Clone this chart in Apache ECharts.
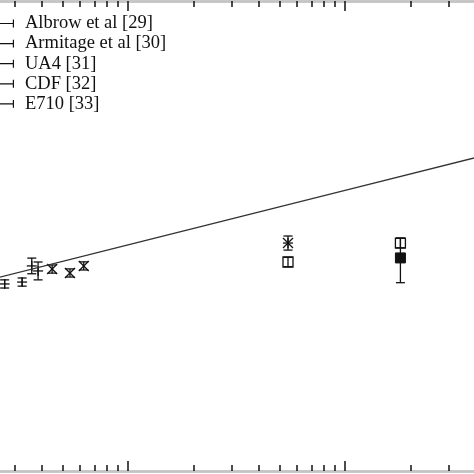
<!DOCTYPE html>
<html><head><meta charset="utf-8">
<script src="https://cdn.jsdelivr.net/npm/echarts@6/dist/echarts.min.js"></script>
<style>html,body{margin:0;padding:0;background:#fff}#c{width:474px;height:474px}</style>
</head><body><div id="c"></div>
<script>
// ---- data (sqrt(s) in GeV, value in arbitrary units) ----
const seriesNames = ['Albrow et al [29]', 'Armitage et al [30]', 'UA4 [31]', 'CDF [32]', 'E710 [33]'];
const albrowE = [27, 32.5, 36, 38.5];
const albrowY = [11.94, 12.06, 13.09, 12.77];
const albrowErrLo = [0.26, 0.26, 0.5, 0.57];
const albrowErrHi = [0.26, 0.26, 0.5, 0.57];
const armitageE = [44.7, 54, 62.5];
const armitageY = [12.89, 12.64, 13.09];
const armitageErrLo = [0.26, 0.26, 0.26];
const armitageErrHi = [0.26, 0.26, 0.26];
const ua4E = [546];
const ua4Y = [14.55];
const ua4ErrLo = [0.45];
const ua4ErrHi = [0.45];
const cdfE = [546, 1800];
const cdfY = [13.34, 14.55];
const cdfErrLo = [0.3, 0.3];
const cdfErrHi = [0.3, 0.3];
const e710E = [1800];
const e710Y = [13.60];
const e710ErrLo = [1.58];
const e710ErrHi = [1.27];
const modelE = [20, 100, 1000, 5000];
const modelY = [12.0, 14.43, 17.91, 20.34];
const majorTicks = [100, 1000];
const minorTicks = [30, 40, 50, 60, 70, 80, 90, 200, 300, 400, 500, 600, 700, 800, 900, 2000, 3000];
const xMinE = 25.7, xMaxE = 3930;
const yMin = 0, yMax = 30;

const INK = '#111';
function pts(E, Y, Lo, Hi) { return E.map((e, i) => [Math.log10(e), Y[i], Lo[i], Hi[i]]); }

function makeRender(kind) {
  return function (params, api) {
    const x = api.value(0), y = api.value(1), lo = api.value(2), hi = api.value(3);
    const c = api.coord([x, y]);
    const t = api.coord([x, y + hi]);
    const b = api.coord([x, y - lo]);
    const cap = 4.5, s = 5;
    const st = { stroke: INK, lineWidth: 1.3, fill: null };
    const L = (x1, y1, x2, y2) => ({ type: 'line', shape: { x1, y1, x2, y2 }, style: st });
    const ch = [
      L(c[0], t[1], c[0], b[1]),
      L(c[0] - cap, t[1], c[0] + cap, t[1]),
      L(c[0] - cap, b[1], c[0] + cap, b[1])
    ];
    if (kind === 'plus' || kind === 'star') {
      ch.push(L(c[0] - s, c[1], c[0] + s, c[1]), L(c[0], c[1] - s, c[0], c[1] + s));
    }
    if (kind === 'cross' || kind === 'star') {
      ch.push(L(c[0] - s, c[1] - s, c[0] + s, c[1] + s), L(c[0] - s, c[1] + s, c[0] + s, c[1] - s));
    }
    if (kind === 'box') {
      ch.push({ type: 'rect', shape: { x: c[0] - s, y: c[1] - s, width: 2 * s, height: 2 * s }, style: st });
    }
    if (kind === 'fbox') {
      ch.push({ type: 'rect', shape: { x: c[0] - s, y: c[1] - s, width: 2 * s, height: 2 * s }, style: { fill: INK, stroke: INK, lineWidth: 1 } });
    }
    return { type: 'group', children: ch };
  };
}

function tickAxis(pos, vals, len) {
  return {
    type: 'value', position: pos,
    min: Math.log10(xMinE), max: Math.log10(xMaxE),
    axisLine: { show: true, onZero: false, lineStyle: { color: '#c4c4c4', width: 2.5 } },
    axisTick: { show: true, inside: true, length: len, customValues: vals.map(Math.log10), lineStyle: { color: INK, width: 1.5 } },
    axisLabel: { show: false },
    splitLine: { show: false }
  };
}

function customSeries(name, kind, data) {
  return {
    name, type: 'custom', xAxisIndex: 0, yAxisIndex: 0,
    renderItem: makeRender(kind), data,
    itemStyle: { color: INK }, silent: true, animation: false
  };
}

const chart = echarts.init(document.getElementById('c'), null, { renderer: 'canvas' });
chart.setOption({
  animation: false,
  backgroundColor: '#fff',
  grid: { left: 0, right: 0, top: 1, bottom: 3, containLabel: false },
  xAxis: [
    tickAxis('bottom', majorTicks, 10),
    tickAxis('top', majorTicks, 10),
    tickAxis('bottom', minorTicks, 6),
    tickAxis('top', minorTicks, 6)
  ],
  yAxis: { type: 'value', min: yMin, max: yMax, show: false },
  legend: {
    data: seriesNames,
    orient: 'vertical', left: -16, top: 9,
    itemWidth: 25, itemHeight: 8, itemGap: 1.1,
    icon: 'path://M0,3.4 L24,3.4 L24,0 L25.2,0 L25.2,8 L24,8 L24,4.6 L0,4.6 Z',
    itemStyle: { color: INK },
    selectedMode: false,
    textStyle: { fontFamily: 'Liberation Serif', fontSize: 18.5, lineHeight: 18, color: INK, padding: [0, 0, 0, 6] }
  },
  series: [
    {
      name: 'model', type: 'line', symbol: 'none', clip: true,
      data: modelE.map((e, i) => [Math.log10(e), modelY[i]]),
      lineStyle: { color: '#333', width: 1.3 }, silent: true
    },
    customSeries(seriesNames[0], 'plus', pts(albrowE, albrowY, albrowErrLo, albrowErrHi)),
    customSeries(seriesNames[1], 'cross', pts(armitageE, armitageY, armitageErrLo, armitageErrHi)),
    customSeries(seriesNames[2], 'star', pts(ua4E, ua4Y, ua4ErrLo, ua4ErrHi)),
    customSeries(seriesNames[3], 'box', pts(cdfE, cdfY, cdfErrLo, cdfErrHi)),
    customSeries(seriesNames[4], 'fbox', pts(e710E, e710Y, e710ErrLo, e710ErrHi))
  ]
});
</script></body></html>
